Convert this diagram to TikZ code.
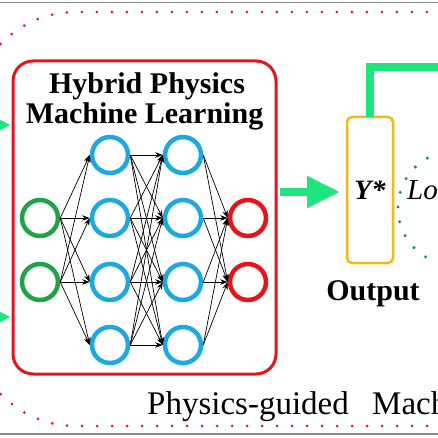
\documentclass[tikz,border=0pt]{standalone}
\usepackage{fontspec}
\setmainfont{Liberation Serif}
\usetikzlibrary{arrows.meta}
\definecolor{boxred}{HTML}{E4141B}
\definecolor{nnblue}{HTML}{1CA8E3}
\definecolor{nngreen}{HTML}{1FA348}
\definecolor{brightgreen}{HTML}{1EE67C}
\definecolor{outorange}{HTML}{F5B916}
\definecolor{dotred}{HTML}{E2173A}
\definecolor{dotgreen}{HTML}{138F63}
\definecolor{framegray}{HTML}{8A8A8A}
\begin{document}
\begin{tikzpicture}[x=1pt,y=-1pt,
  neuron/.style={circle,draw,minimum size=36pt,inner sep=0pt,line width=4.5pt},
  inneuron/.style={neuron,draw=nngreen},
  hidneuron/.style={neuron,draw=nnblue},
  outneuron/.style={neuron,draw=boxred},
  nnedge/.style={line width=0.7pt,-{Stealth[length=7.5pt,width=5.5pt]}},
  bigarrow/.style={draw=brightgreen,line width=8pt,-{Triangle[length=33pt,width=30pt]},fill=brightgreen},
  greenline/.style={draw=brightgreen,line width=8pt,miter limit=10},
  reddots/.style={draw=dotred,line width=3pt,line cap=round,dash pattern=on 0pt off 15pt},
  grayline/.style={draw=framegray,line width=1.7pt},
  titlefont/.style={font=\fontsize{30}{30}\selectfont\bfseries},
  bottomfont/.style={font=\fontsize{33}{33}\selectfont},
]
\useasboundingbox (0,0) rectangle (438,438);
\clip (0,0) rectangle (438,438);

% frame lines
\draw[grayline] (0,2.5) -- (438,2.5);
\draw[grayline] (0,434.3) -- (438,434.3);

% red dotted outer frame
\draw[reddots,rounded corners=105pt] (-29,12) rectangle (760,426);

% hybrid box
\node[draw=boxred,line width=3pt,rounded corners=20pt,minimum width=263pt,minimum height=313pt,inner sep=0pt,outer sep=0pt] (hpml) at (144.5,217.5) {};
\node[titlefont,anchor=base] (t1) at (147,94) {Hybrid Physics};
\node[titlefont,anchor=base] (t2) at (144.5,124) {Machine Learning};

% neurons
\node[inneuron] (i1) at (40,218) {};
\node[inneuron] (i2) at (40,282) {};
\foreach \k/\yy in {1/155,2/218,3/282,4/345}{
  \node[hidneuron] (a\k) at (110,\yy) {};
  \node[hidneuron] (b\k) at (183,\yy) {};
}
\node[outneuron] (o1) at (248,218) {};
\node[outneuron] (o2) at (248,282) {};

\foreach \i in {1,2}{\foreach \j in {1,...,4}{\draw[nnedge] (i\i.east) -- (a\j.west);}}
\foreach \i in {1,...,4}{\foreach \j in {1,...,4}{\draw[nnedge] (a\i.east) -- (b\j.west);}}
\foreach \i in {1,...,4}{\foreach \j in {1,2}{\draw[nnedge] (b\i.east) -- (o\j.west);}}

% left incoming arrows
\coordinate (in1) at (-40,125);
\coordinate (in2) at (-40,317);
\draw[bigarrow] (in1) -- ([xshift=-2pt]in1 -| hpml.west);
\draw[bigarrow] (in2) -- ([xshift=-2pt]in2 -| hpml.west);

% output box
\node[draw=outorange,line width=2.5pt,rounded corners=5pt,minimum width=46pt,minimum height=146pt,inner sep=0pt,outer sep=0pt,font=\fontsize{28}{28}\selectfont\bfseries\itshape] (ybox) at (370,190) {Y*};
\node[titlefont,anchor=base] (outlbl) at (373,300) {Output};

% arrow hybrid -> output
\draw[bigarrow] ([xshift=4pt,yshift=-2pt]hpml.east |- ybox.west) -- ([xshift=-7pt,yshift=-2pt]ybox.west);

% green line from output to the right
\coordinate (outR) at (460,67);
\draw[greenline] (ybox.north) |- (outR);

% loss label and dotted arc
\node[anchor=base west,inner sep=0pt,font=\fontsize{29}{29}\selectfont\itshape] (loss) at (407,200) {Loss};
\coordinate (lc) at (455,208);
\foreach \a in {121,136,...,241}{\fill[dotgreen] (lc) ++(\a:57) circle (1.7pt);}

% bottom label
\node[bottomfont,anchor=base west,inner sep=0pt] (pg1) at (147,414) {Physics-guided};
\node[bottomfont,anchor=base west,inner sep=0pt] (pg2) at (372,414) {Machine Learning};
\end{tikzpicture}
\end{document}
